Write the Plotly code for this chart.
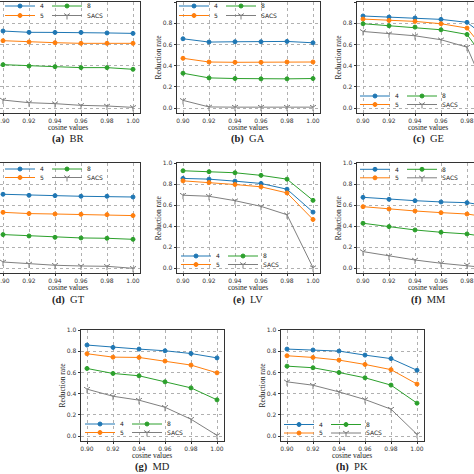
import plotly.graph_objects as go

W = H = 474

cosine = [0.90, 0.92, 0.94, 0.96, 0.98, 1.00]
series_names = ["4", "5", "8", "SACS"]

br_4 = [0.726, 0.714, 0.713, 0.713, 0.708, 0.704]
br_5 = [0.635, 0.623, 0.616, 0.610, 0.610, 0.610]
br_8 = [0.409, 0.396, 0.390, 0.381, 0.381, 0.365]
br_sacs = [0.075, 0.050, 0.041, 0.025, 0.019, 0.006]

ga_4 = [0.653, 0.622, 0.625, 0.625, 0.628, 0.615]
ga_5 = [0.469, 0.434, 0.431, 0.431, 0.434, 0.434]
ga_8 = [0.328, 0.284, 0.278, 0.275, 0.275, 0.278]
ga_sacs = [0.072, 0.010, 0.008, 0.008, 0.008, 0.008]

ge_4 = [0.868, 0.858, 0.849, 0.836, 0.808, 0.62]
ge_5 = [0.839, 0.826, 0.817, 0.795, 0.754, 0.45]
ge_8 = [0.795, 0.776, 0.763, 0.738, 0.694, 0.36]
ge_sacs = [0.722, 0.700, 0.681, 0.644, 0.574, 0.01]

gt_4 = [0.705, 0.695, 0.692, 0.686, 0.686, 0.679]
gt_5 = [0.533, 0.521, 0.517, 0.514, 0.511, 0.502]
gt_8 = [0.321, 0.308, 0.295, 0.289, 0.286, 0.276]
gt_sacs = [0.060, 0.041, 0.029, 0.022, 0.019, 0.000]

lv_4 = [0.856, 0.849, 0.830, 0.808, 0.753, 0.535]
lv_5 = [0.833, 0.817, 0.798, 0.776, 0.718, 0.465]
lv_8 = [0.929, 0.920, 0.910, 0.885, 0.849, 0.647]
lv_sacs = [0.696, 0.686, 0.644, 0.590, 0.510, 0.006]

mm_4 = [0.676, 0.657, 0.644, 0.632, 0.625, 0.587]
mm_5 = [0.587, 0.565, 0.546, 0.530, 0.517, 0.48]
mm_8 = [0.429, 0.397, 0.365, 0.343, 0.327, 0.29]
mm_sacs = [0.159, 0.117, 0.079, 0.048, 0.032, 0.0]

md_4 = [0.858, 0.836, 0.820, 0.804, 0.778, 0.737]
md_5 = [0.776, 0.744, 0.741, 0.707, 0.669, 0.596]
md_8 = [0.637, 0.590, 0.568, 0.511, 0.454, 0.341]
md_sacs = [0.442, 0.375, 0.338, 0.271, 0.158, 0.006]

pk_4 = [0.820, 0.811, 0.801, 0.763, 0.730, 0.62]
pk_5 = [0.757, 0.741, 0.716, 0.675, 0.626, 0.49]
pk_8 = [0.659, 0.644, 0.599, 0.549, 0.480, 0.31]
pk_sacs = [0.511, 0.479, 0.416, 0.344, 0.253, 0.016]

y_ticks = [0.0, 0.2, 0.4, 0.6, 0.8, 1.0]

colors = {"4": "#1f77b4", "5": "#ff7f0e", "8": "#2ca02c", "SACS": "#7f7f7f"}
symbols = {"4": "circle", "5": "circle", "8": "circle", "SACS": "y-down"}

# pixel placement of each panel: x of the 0.90 tick, y of 1.0, px per unit,
# legend row centres and legend left edge
panels = [
    dict(cap="(a)", name="BR", vals=[br_4, br_5, br_8, br_sacs], x90=3, ytop=2, yu=106, leg=(6, 15.5), lx=0),
    dict(cap="(b)", name="GA", vals=[ga_4, ga_5, ga_8, ga_sacs], x90=183, ytop=2, yu=106, leg=(6, 15.5), lx=174),
    dict(cap="(c)", name="GE", vals=[ge_4, ge_5, ge_8, ge_sacs], x90=363, ytop=2, yu=106, leg=(96, 104.5), lx=355),
    dict(cap="(d)", name="GT", vals=[gt_4, gt_5, gt_8, gt_sacs], x90=3, ytop=163.3, yu=105, leg=(169, 177.5), lx=0),
    dict(cap="(e)", name="LV", vals=[lv_4, lv_5, lv_8, lv_sacs], x90=183, ytop=163.3, yu=105, leg=(256, 264.5), lx=176),
    dict(cap="(f)", name="MM", vals=[mm_4, mm_5, mm_8, mm_sacs], x90=363, ytop=163.3, yu=105, leg=(169.3, 177.8), lx=355),
    dict(cap="(g)", name="MD", vals=[md_4, md_5, md_8, md_sacs], x90=87, ytop=330, yu=106, leg=(424, 432.5), lx=80),
    dict(cap="(h)", name="PK", vals=[pk_4, pk_5, pk_8, pk_sacs], x90=287, ytop=330, yu=106, leg=(424.5, 433), lx=279),
]

XU = 1300  # px per unit of cosine value
Y0 = -0.045

tick_font = dict(family="DejaVu Sans", size=6, color="#333333")
serif = "Liberation Serif"

fig = go.Figure()
layout = dict(
    width=W,
    height=H,
    margin=dict(l=0, r=0, t=0, b=0, autoexpand=False),
    paper_bgcolor="white",
    plot_bgcolor="white",
    showlegend=True,
    annotations=[],
)

for k, p in enumerate(panels):
    n = k + 1
    xa = "x" if n == 1 else f"x{n}"
    ya = "y" if n == 1 else f"y{n}"
    left = p["x90"] - 6.5
    right = p["x90"] + 136.5
    lc, rc = max(left, 0), min(right, W)
    xmin = 0.90 + (lc - p["x90"]) / XU
    xmax = 0.90 + (rc - p["x90"]) / XU
    top = p["ytop"]
    bottom = top + (1.0 - Y0) * p["yu"]
    cut_left = left < 0
    cut_right = right > W

    leg_a = "legend" if n == 1 else f"legend{2 * k + 1}"
    leg_b = f"legend{2 * k + 2}"

    for s, vals in zip(series_names, p["vals"]):
        fig.add_trace(
            go.Scatter(
                x=cosine,
                y=vals,
                name=s,
                mode="lines+markers",
                xaxis=xa,
                yaxis=ya,
                legend=leg_a if s in ("4", "8") else leg_b,
                legendwidth=2 if s in ("4", "5") else None,
                line=dict(color=colors[s], width=1),
                marker=dict(
                    symbol=symbols[s],
                    size=5 if s == "SACS" else 4,
                    color=colors[s],
                    line=dict(color=colors[s], width=1),
                ),
            )
        )

    for lid, yc in ((leg_a, p["leg"][0]), (leg_b, p["leg"][1])):
        layout[lid] = dict(
            orientation="h",
            x=p["lx"] / W,
            xanchor="left",
            y=1 - yc / H,
            yanchor="middle",
            bgcolor="rgba(0,0,0,0)",
            font=dict(family="DejaVu Sans", size=6, color="#222222"),
            itemwidth=30,
        )

    xkey = "xaxis" if n == 1 else f"xaxis{n}"
    ykey = "yaxis" if n == 1 else f"yaxis{n}"
    layout[xkey] = dict(
        domain=[lc / W, rc / W],
        anchor=ya,
        range=[xmin, xmax],
        tickvals=cosine,
        tickformat=".2f",
        tickfont=tick_font,
        ticks="outside",
        ticklen=2,
        tickcolor="#333333",
        ticklabeloverflow="allow",
        showline=True,
        linecolor="#333333",
        linewidth=1,
        mirror=True,
        showgrid=True,
        gridcolor="#b0b0b0",
        griddash="dot",
        gridwidth=0.8,
        zeroline=False,
        automargin=False,
    )
    layout[ykey] = dict(
        domain=[1 - bottom / H, 1 - top / H],
        anchor=xa,
        range=[Y0, 1.0],
        tickvals=y_ticks,
        tickformat=".1f",
        tickfont=tick_font,
        ticks="" if cut_left else "outside",
        ticklen=2,
        tickcolor="#333333",
        showticklabels=not cut_left,
        side="right" if cut_left else "left",
        showline=True,
        linecolor="#333333",
        linewidth=1,
        mirror=not (cut_left or cut_right),
        showgrid=True,
        gridcolor="#b0b0b0",
        griddash="dot",
        gridwidth=0.8,
        zeroline=False,
        automargin=False,
    )

    cx = p["x90"] + 65
    if not cut_left:
        layout["annotations"].append(dict(
            text="Reduction rate", textangle=-90, xref="paper", yref="paper",
            x=(p["x90"] - 25) / W, y=1 - (top + bottom) / 2 / H,
            xanchor="center", yanchor="middle", showarrow=False,
            font=dict(family=serif, size=7.5, color="#222222"),
        ))
    layout["annotations"].append(dict(
        text="cosine values", xref="paper", yref="paper",
        x=cx / W, y=1 - (bottom + 14.5) / H,
        xanchor="center", yanchor="middle", showarrow=False,
        font=dict(family=serif, size=7.5, color="#222222"),
    ))
    layout["annotations"].append(dict(
        text=f"<b>{p['cap']}</b>  {p['name']}", xref="paper", yref="paper",
        x=cx / W, y=1 - (bottom + 26.5) / H,
        xanchor="center", yanchor="middle", showarrow=False,
        font=dict(family=serif, size=10.5, color="#222222"),
    ))

fig.update_layout(**layout)
# the page body has a default margin; drop it so the figure sits at the window corner
fig.write_html(
    "out.html",
    config={"displayModeBar": False},
    post_script="document.body.style.margin='0';",
)
